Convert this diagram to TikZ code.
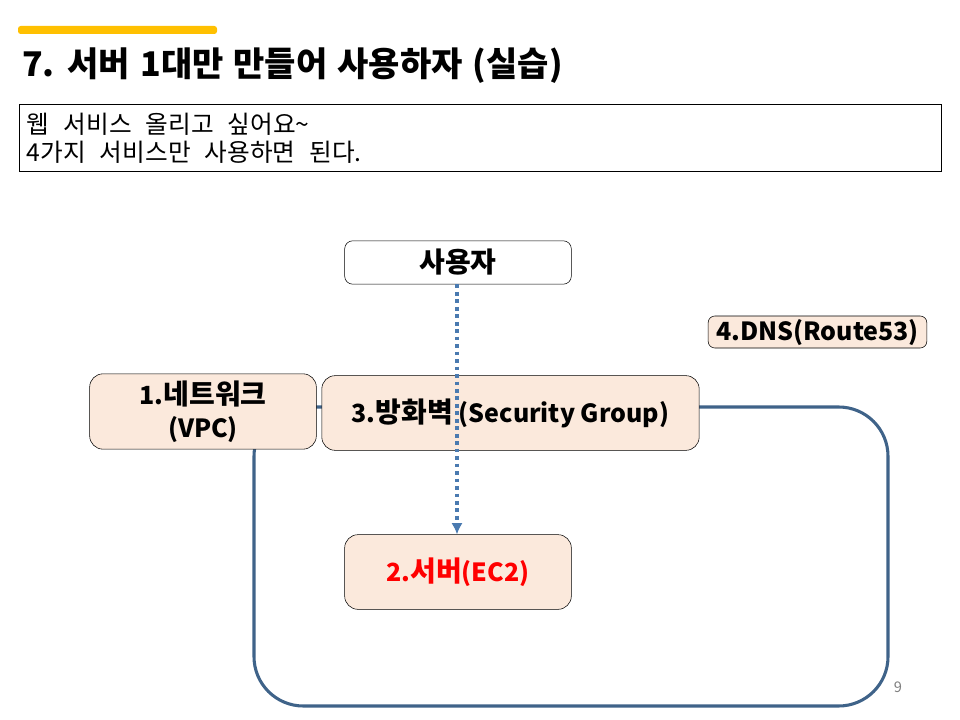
\documentclass[tikz,border=0pt]{standalone}
\usepackage{fontspec}
\usepackage{xcolor}
\usetikzlibrary{arrows.meta}
\setmainfont{Noto Sans CJK KR}
\newfontfamily\hgfont[Scale=1.12]{Noto Sans CJK KR}
\newcommand{\hg}[1]{{\hgfont\bfseries #1}}
\definecolor{barcolor}{HTML}{FFC000}
\definecolor{boxfill}{HTML}{FBE9DC}
\definecolor{vpcline}{HTML}{3F6389}
\definecolor{arrowblue}{HTML}{4A7AB0}
\tikzset{
  svcbox/.style={draw=black, fill=boxfill, rounded corners=10pt, inner sep=0pt,
    align=center, font=\fontsize{18.75}{24.5}\selectfont\bfseries},
}

\begin{document}
\begin{tikzpicture}[x=0.75pt, y=-0.75pt]
  \useasboundingbox (0,0) rectangle (960,720);
  \fill[white] (0,0) rectangle (960,720);
  \fill[barcolor, rounded corners=2pt] (18,26) rectangle (217,34);
  \node (title) [anchor=west, inner sep=0pt, font=\fontsize{25.5}{30}\selectfont\bfseries]
    at (22,66) {\spaceskip=7.6pt 7. 서버 1대만 만들어 사용하자 (실습)};
  \node (intro) [draw=black, anchor=north west, inner sep=0pt, minimum width=691.5pt,
    minimum height=50.5pt, text width=680pt, align=left,
    font=\fontsize{18.5}{21}\selectfont] at (19,104)
    {\spaceskip=10.5pt 웹 서비스 올리고 싶어요\textasciitilde\\4가지 서비스만 사용하면 된다.};

  \draw[vpcline, line width=2.3pt, rounded corners=37pt]
    (254,407) rectangle (888,706);

  \node (user) [svcbox, fill=white, rounded corners=6pt, minimum width=170pt, minimum height=32.5pt]
    at (458,262.5) {\hg{사용자}};
  \node (dns) [svcbox, rounded corners=5pt, minimum width=164pt, minimum height=24pt,
    text height=17pt, text depth=4pt]
    at (817.5,332) {4.DNS(Route53)};
  \node (vpc) [svcbox, minimum width=170pt, minimum height=56.5pt]
    at (203,411.5) {1.\hg{네트워크}\\(VPC)};
  \node (sg) [svcbox, minimum width=283pt, minimum height=56pt]
    at (510.5,413) {3.\hg{방화벽} (Security Group)};
  \node (ec2) [svcbox, text=red, minimum width=170pt, minimum height=56pt]
    at (458,572) {2.\hg{서버}(EC2)};
  \node (pagenum) [text=black!50, inner sep=0pt, font=\fontsize{11}{13}\selectfont]
    at (898,687) {9};

  \draw[arrowblue, line width=2.7pt, dash pattern=on 2.8pt off 2.8pt, -{Latex[length=8.5pt,width=8.5pt]}]
    ([xshift=-0.75pt]user.south) -- ([xshift=-0.75pt]ec2.north);
\end{tikzpicture}
\end{document}
